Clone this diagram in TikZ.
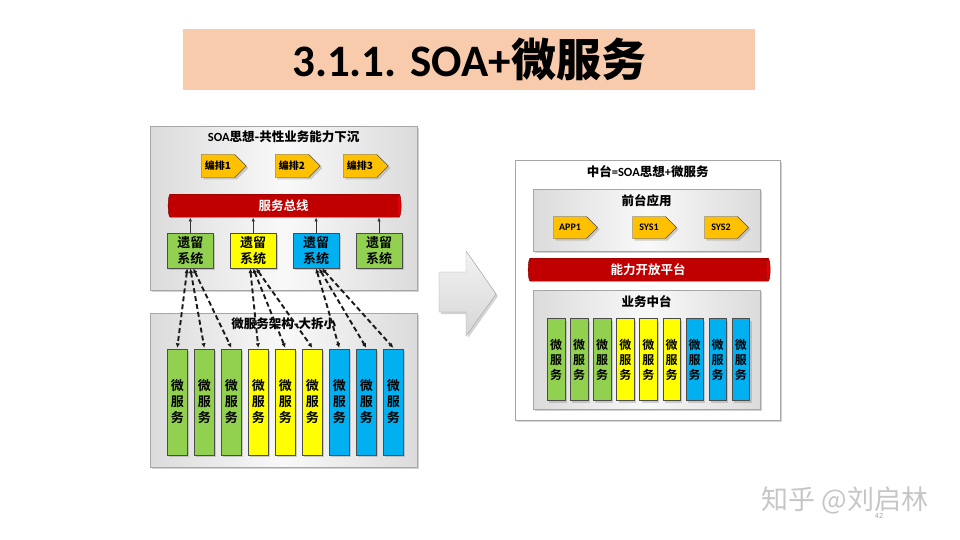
\documentclass[tikz,border=0pt]{standalone}
\usepackage{fontspec}
\setmainfont{Carlito}
\newfontfamily\zh{Noto Sans CJK SC}
\newfontfamily\zhb{Noto Sans CJK SC Bold}
\usepackage{tikz}
\usetikzlibrary{positioning,shapes.geometric,shapes.symbols,shadows,arrows.meta}
\definecolor{grn}{HTML}{92D050}
\definecolor{ylw}{HTML}{FFFF00}
\definecolor{blu}{HTML}{00B0F0}
\definecolor{org}{HTML}{FFC000}
\definecolor{busred}{HTML}{C00000}
\definecolor{peach}{HTML}{F8CBAD}

\begin{document}
\begin{tikzpicture}[x=1pt,y=-1pt,
  shad/.style={drop shadow={opacity=.35,shadow xshift=2pt,shadow yshift=-2pt}},
  panel/.style={draw=gray!70,shading=axis,left color=gray!28,right color=gray!28,middle color=gray!5,shad,anchor=north west,inner sep=0pt},
  paneltitle/.style={font=\bfseries\fontsize{12.5}{15}\selectfont,inner sep=1pt},
  chev/.style={shape=signal,signal to=east,draw=gray!60!black,fill=org,minimum width=45pt,minimum height=23pt,inner sep=0pt,font=\bfseries\fontsize{10}{11}\selectfont,shad},
  bus/.style={cylinder,shape aspect=.35,cylinder uses custom fill,cylinder body fill=busred,cylinder end fill=red!55!busred,draw=busred!60!black,text=white,minimum width=23pt,inner sep=0pt,font=\zhb\fontsize{12.5}{15}\selectfont},
  legacy/.style={draw=black!70,minimum width=46pt,minimum height=35pt,align=center,inner sep=0pt,font=\zhb\fontsize{13}{15.5}\selectfont,shad},
  msvc/.style={draw=black!70,minimum width=20pt,minimum height=106pt,align=center,inner sep=0pt,font=\zhb\fontsize{13}{16}\selectfont,shad},
  msvcs/.style={draw=black!70,minimum width=17.5pt,minimum height=82pt,align=center,inner sep=0pt,font=\zhb\fontsize{12}{15}\selectfont,shad},
  uparr/.style={-{Latex[length=4pt,width=3.5pt]},draw=black!80,line width=.8pt},
  dasharr/.style={{Latex[length=4.5pt,width=4.5pt]}-{Latex[length=4.5pt,width=4.5pt]},draw=black!90,line width=1.9pt,dash pattern=on 5pt off 3pt}]
\useasboundingbox (0,0) rectangle (960,540);

\node[fill=peach,minimum width=572pt,minimum height=61pt,anchor=north west,inner sep=0pt] (band) at (183,29) {};
\node[font=\bfseries\fontsize{45}{54}\selectfont,inner sep=0pt] (title) at (band.center) {3.1.1. SOA+{\zhb 微服务}};

\node[panel,minimum width=267pt,minimum height=164pt] (soa) at (150,126) {};
\node[paneltitle,below=4pt of soa.north] (soatitle) {SOA{\zhb 思想-共性业务能力下沉}};
\node[chev] (bp1) at (218,166) {\zhb 编排1};
\node[chev] (bp2) at (292,166) {\zhb 编排2};
\node[chev] (bp3) at (360,166) {\zhb 编排3};
\node[bus,minimum height=233pt] (esb) at (283.5,205.7) {服务总线};
\node[legacy,fill=grn] (ly1) at (190.3,250.8) {遗留\\系统};
\node[legacy,fill=ylw,right=16.5pt of ly1] (ly2) {遗留\\系统};
\node[legacy,fill=blu,right=16.5pt of ly2] (ly3) {遗留\\系统};
\node[legacy,fill=grn,right=16.5pt of ly3] (ly4) {遗留\\系统};
\draw[uparr] (ly1) -- (ly1 |- esb.south);
\draw[uparr] (ly2) -- (ly2 |- esb.south);
\draw[uparr] (ly3) -- (ly3 |- esb.south);
\draw[uparr] (ly4) -- (ly4 |- esb.south);

\node[panel,minimum width=267pt,minimum height=154pt] (split) at (150,313) {};
\node[paneltitle,below=4pt of split.north] (splittitle) {\zhb 微服务架构-大拆小};
\node[msvc,fill=grn] (m1) at (177.3,402) {微\\服\\务};
\node[msvc,fill=grn,right=6.6pt of m1] (m2) {微\\服\\务};
\node[msvc,fill=grn,right=6.6pt of m2] (m3) {微\\服\\务};
\node[msvc,fill=ylw,right=6.6pt of m3] (m4) {微\\服\\务};
\node[msvc,fill=ylw,right=6.6pt of m4] (m5) {微\\服\\务};
\node[msvc,fill=ylw,right=6.6pt of m5] (m6) {微\\服\\务};
\node[msvc,fill=blu,right=6.6pt of m6] (m7) {微\\服\\务};
\node[msvc,fill=blu,right=6.6pt of m7] (m8) {微\\服\\务};
\node[msvc,fill=blu,right=6.6pt of m8] (m9) {微\\服\\务};
\draw[dasharr] ([xshift=-3pt]ly1.south) -- ([yshift=1pt]m1.north);
\draw[dasharr] (ly1.south) -- ([yshift=1pt]m2.north);
\draw[dasharr] ([xshift=3pt]ly1.south) -- ([yshift=1pt]m3.north);
\draw[dasharr] ([xshift=-3pt]ly2.south) -- ([yshift=1pt]m4.north);
\draw[dasharr] (ly2.south) -- ([yshift=1pt]m5.north);
\draw[dasharr] ([xshift=3pt]ly2.south) -- ([yshift=1pt]m6.north);
\draw[dasharr] ([xshift=0pt]ly3.south) -- ([yshift=1pt]m7.north);
\draw[dasharr] ([xshift=3pt]ly3.south) -- ([yshift=1pt]m8.north);
\draw[dasharr] ([xshift=6pt]ly3.south) -- ([yshift=1pt]m9.north);

\draw[draw=gray!70,top color=gray!10,bottom color=gray!32,shad] (439,272) -- (466,272) -- (466,251) -- (496,294) -- (466,336) -- (466,312) -- (439,312) -- cycle;

\node[draw=gray!70,fill=white,minimum width=265pt,minimum height=260pt,anchor=north west,inner sep=0pt,shad] (mid) at (515,160) {};
\node[paneltitle,below=4pt of mid.north] (midtitle) {{\zhb 中台}=SOA{\zhb 思想}+{\zhb 微服务}};
\node[panel,minimum width=227pt,minimum height=62pt] (front) at (533,189) {};
\node[paneltitle,below=4pt of front.north] (fronttitle) {\zhb 前台应用};
\node[chev,minimum width=44pt,minimum height=22pt] (app1) at (570,227.5) {APP1};
\node[chev,minimum width=44pt,minimum height=22pt] (sys1) at (649,227.5) {SYS1};
\node[chev,minimum width=44pt,minimum height=22pt] (sys2) at (721,227.5) {SYS2};
\node[bus,minimum height=242pt] (open) at (648,269.7) {能力开放平台};
\node[panel,minimum width=227pt,minimum height=119pt] (biz) at (533,290) {};
\node[paneltitle,below=4pt of biz.north] (biztitle) {\zhb 业务中台};
\node[msvcs,fill=grn] (s1) at (556,359.5) {微\\服\\务};
\node[msvcs,fill=grn,right=5.2pt of s1] (s2) {微\\服\\务};
\node[msvcs,fill=grn,right=5.2pt of s2] (s3) {微\\服\\务};
\node[msvcs,fill=ylw,right=5.2pt of s3] (s4) {微\\服\\务};
\node[msvcs,fill=ylw,right=5.2pt of s4] (s5) {微\\服\\务};
\node[msvcs,fill=ylw,right=5.2pt of s5] (s6) {微\\服\\务};
\node[msvcs,fill=blu,right=5.2pt of s6] (s7) {微\\服\\务};
\node[msvcs,fill=blu,right=5.2pt of s7] (s8) {微\\服\\务};
\node[msvcs,fill=blu,right=5.2pt of s8] (s9) {微\\服\\务};

\node[text=gray!45,font=\zh\fontsize{27}{30}\selectfont,inner sep=0pt] (mark) at (845,500) {知乎 @刘启林};
\node[text=gray!70,font=\fontsize{8}{9}\selectfont,inner sep=0pt] (page) at (879,516) {42};
\end{tikzpicture}
\end{document}
